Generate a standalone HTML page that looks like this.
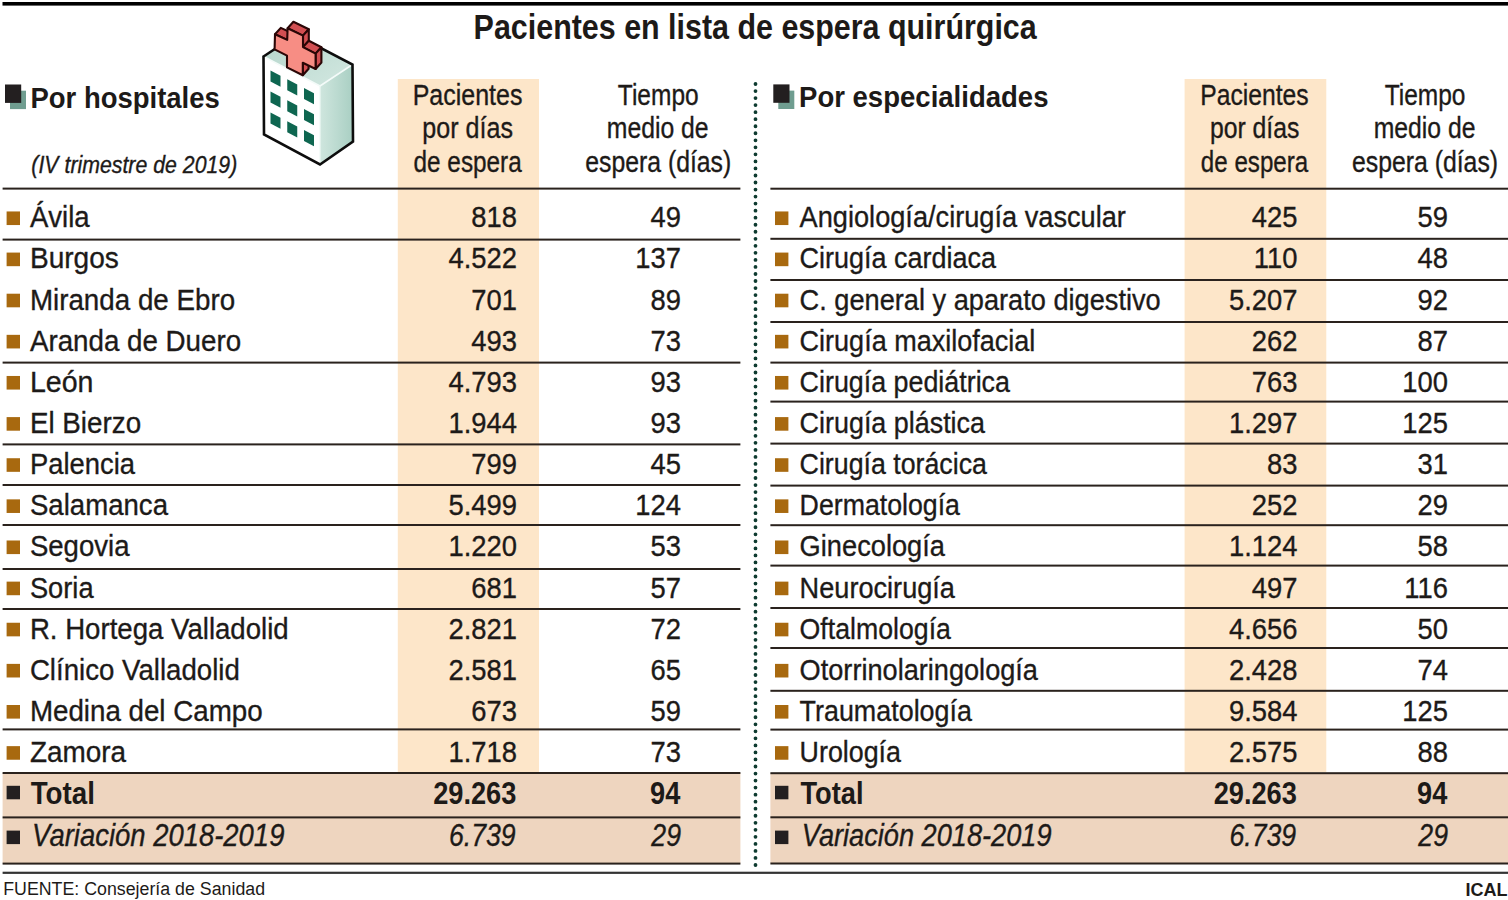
<!DOCTYPE html>
<html lang="es"><head><meta charset="utf-8"><title>Pacientes en lista de espera quirúrgica</title>
<style>
html,body{margin:0;padding:0;background:#fff;}
body{width:1508px;height:900px;overflow:hidden;}
svg{display:block;font-family:"Liberation Sans",Arial,Helvetica,sans-serif;}
</style></head><body>
<svg width="1508" height="900" viewBox="0 0 1508 900">
<rect x="0.00" y="0.00" width="1508.00" height="900.00" fill="#ffffff"/>
<rect x="397.80" y="79.00" width="141.20" height="693.20" fill="#fde6c9"/>
<rect x="1184.60" y="79.00" width="141.70" height="693.20" fill="#fde6c9"/>
<rect x="2.60" y="773.00" width="737.80" height="90.60" fill="#eed5bf"/>
<rect x="770.40" y="773.20" width="737.60" height="90.30" fill="#eed5bf"/>
<rect x="2.50" y="2.00" width="1505.50" height="3.60" fill="#000000"/>
<text transform="translate(473.62 38.80) scale(0.8479 1)" font-size="35.90" font-weight="bold" fill="#1d1a18">Pacientes en lista de espera quirúrgica</text>
<rect x="10.00" y="90.70" width="16.00" height="18.40" fill="#6f9d90"/>
<rect x="5.00" y="84.50" width="16.20" height="18.40" fill="#231f20"/>
<rect x="778.30" y="90.60" width="16.00" height="18.40" fill="#6f9d90"/>
<rect x="773.30" y="84.40" width="16.20" height="18.40" fill="#231f20"/>
<text transform="translate(30.51 108.00) scale(0.9102 1)" font-size="30.20" font-weight="bold" fill="#1d1a18">Por hospitales</text>
<text transform="translate(799.01 107.30) scale(0.9122 1)" font-size="30.20" font-weight="bold" fill="#1d1a18">Por especialidades</text>
<text transform="translate(31.34 172.80) scale(0.9144 1)" font-size="23.30" font-style="italic" fill="#1d1a18" stroke="#1d1a18" stroke-width="0.35">(IV trimestre de 2019)</text>
<text transform="translate(412.70 104.80) scale(0.8735 1)" font-size="28.60" fill="#1d1a18" stroke="#1d1a18" stroke-width="0.35">Pacientes</text>
<text transform="translate(422.37 138.10) scale(0.8774 1)" font-size="28.60" fill="#1d1a18" stroke="#1d1a18" stroke-width="0.35">por días</text>
<text transform="translate(413.58 171.50) scale(0.8501 1)" font-size="28.60" fill="#1d1a18" stroke="#1d1a18" stroke-width="0.35">de espera</text>
<text transform="translate(617.86 104.80) scale(0.8571 1)" font-size="28.60" fill="#1d1a18" stroke="#1d1a18" stroke-width="0.35">Tiempo</text>
<text transform="translate(606.84 138.10) scale(0.8652 1)" font-size="28.60" fill="#1d1a18" stroke="#1d1a18" stroke-width="0.35">medio de</text>
<text transform="translate(585.21 171.50) scale(0.8672 1)" font-size="28.60" fill="#1d1a18" stroke="#1d1a18" stroke-width="0.35">espera (días)</text>
<text transform="translate(1200.33 104.80) scale(0.8621 1)" font-size="28.60" fill="#1d1a18" stroke="#1d1a18" stroke-width="0.35">Pacientes</text>
<text transform="translate(1209.89 138.10) scale(0.8654 1)" font-size="28.60" fill="#1d1a18" stroke="#1d1a18" stroke-width="0.35">por días</text>
<text transform="translate(1200.83 171.50) scale(0.8446 1)" font-size="28.60" fill="#1d1a18" stroke="#1d1a18" stroke-width="0.35">de espera</text>
<text transform="translate(1384.66 104.80) scale(0.8571 1)" font-size="28.60" fill="#1d1a18" stroke="#1d1a18" stroke-width="0.35">Tiempo</text>
<text transform="translate(1373.64 138.10) scale(0.8652 1)" font-size="28.60" fill="#1d1a18" stroke="#1d1a18" stroke-width="0.35">medio de</text>
<text transform="translate(1352.01 171.50) scale(0.8672 1)" font-size="28.60" fill="#1d1a18" stroke="#1d1a18" stroke-width="0.35">espera (días)</text>
<rect x="6.60" y="211.45" width="13.40" height="13.60" fill="#a8690f"/>
<text transform="translate(29.90 227.35) scale(0.9131 1)" font-size="30.20" fill="#1d1a18" stroke="#1d1a18" stroke-width="0.35">Ávila</text>
<text transform="translate(517.00 227.35) scale(0.9070 1)" font-size="30.20" text-anchor="end" fill="#1d1a18" stroke="#1d1a18" stroke-width="0.35">818</text>
<text transform="translate(681.00 227.35) scale(0.9070 1)" font-size="30.20" text-anchor="end" fill="#1d1a18" stroke="#1d1a18" stroke-width="0.35">49</text>
<rect x="6.60" y="252.58" width="13.40" height="13.60" fill="#a8690f"/>
<text transform="translate(29.90 268.48) scale(0.9305 1)" font-size="30.20" fill="#1d1a18" stroke="#1d1a18" stroke-width="0.35">Burgos</text>
<text transform="translate(517.00 268.48) scale(0.9070 1)" font-size="30.20" text-anchor="end" fill="#1d1a18" stroke="#1d1a18" stroke-width="0.35">4.522</text>
<text transform="translate(681.00 268.48) scale(0.9070 1)" font-size="30.20" text-anchor="end" fill="#1d1a18" stroke="#1d1a18" stroke-width="0.35">137</text>
<rect x="6.60" y="293.71" width="13.40" height="13.60" fill="#a8690f"/>
<text transform="translate(29.90 309.61) scale(0.9195 1)" font-size="30.20" fill="#1d1a18" stroke="#1d1a18" stroke-width="0.35">Miranda de Ebro</text>
<text transform="translate(517.00 309.61) scale(0.9070 1)" font-size="30.20" text-anchor="end" fill="#1d1a18" stroke="#1d1a18" stroke-width="0.35">701</text>
<text transform="translate(681.00 309.61) scale(0.9070 1)" font-size="30.20" text-anchor="end" fill="#1d1a18" stroke="#1d1a18" stroke-width="0.35">89</text>
<rect x="6.60" y="334.84" width="13.40" height="13.60" fill="#a8690f"/>
<text transform="translate(29.90 350.74) scale(0.9184 1)" font-size="30.20" fill="#1d1a18" stroke="#1d1a18" stroke-width="0.35">Aranda de Duero</text>
<text transform="translate(517.00 350.74) scale(0.9070 1)" font-size="30.20" text-anchor="end" fill="#1d1a18" stroke="#1d1a18" stroke-width="0.35">493</text>
<text transform="translate(681.00 350.74) scale(0.9070 1)" font-size="30.20" text-anchor="end" fill="#1d1a18" stroke="#1d1a18" stroke-width="0.35">73</text>
<rect x="6.60" y="375.97" width="13.40" height="13.60" fill="#a8690f"/>
<text transform="translate(29.90 391.87) scale(0.9459 1)" font-size="30.20" fill="#1d1a18" stroke="#1d1a18" stroke-width="0.35">León</text>
<text transform="translate(517.00 391.87) scale(0.9070 1)" font-size="30.20" text-anchor="end" fill="#1d1a18" stroke="#1d1a18" stroke-width="0.35">4.793</text>
<text transform="translate(681.00 391.87) scale(0.9070 1)" font-size="30.20" text-anchor="end" fill="#1d1a18" stroke="#1d1a18" stroke-width="0.35">93</text>
<rect x="6.60" y="417.10" width="13.40" height="13.60" fill="#a8690f"/>
<text transform="translate(29.90 433.00) scale(0.9206 1)" font-size="30.20" fill="#1d1a18" stroke="#1d1a18" stroke-width="0.35">El Bierzo</text>
<text transform="translate(517.00 433.00) scale(0.9070 1)" font-size="30.20" text-anchor="end" fill="#1d1a18" stroke="#1d1a18" stroke-width="0.35">1.944</text>
<text transform="translate(681.00 433.00) scale(0.9070 1)" font-size="30.20" text-anchor="end" fill="#1d1a18" stroke="#1d1a18" stroke-width="0.35">93</text>
<rect x="6.60" y="458.23" width="13.40" height="13.60" fill="#a8690f"/>
<text transform="translate(29.90 474.13) scale(0.9075 1)" font-size="30.20" fill="#1d1a18" stroke="#1d1a18" stroke-width="0.35">Palencia</text>
<text transform="translate(517.00 474.13) scale(0.9070 1)" font-size="30.20" text-anchor="end" fill="#1d1a18" stroke="#1d1a18" stroke-width="0.35">799</text>
<text transform="translate(681.00 474.13) scale(0.9070 1)" font-size="30.20" text-anchor="end" fill="#1d1a18" stroke="#1d1a18" stroke-width="0.35">45</text>
<rect x="6.60" y="499.36" width="13.40" height="13.60" fill="#a8690f"/>
<text transform="translate(29.90 515.26) scale(0.9146 1)" font-size="30.20" fill="#1d1a18" stroke="#1d1a18" stroke-width="0.35">Salamanca</text>
<text transform="translate(517.00 515.26) scale(0.9070 1)" font-size="30.20" text-anchor="end" fill="#1d1a18" stroke="#1d1a18" stroke-width="0.35">5.499</text>
<text transform="translate(681.00 515.26) scale(0.9070 1)" font-size="30.20" text-anchor="end" fill="#1d1a18" stroke="#1d1a18" stroke-width="0.35">124</text>
<rect x="6.60" y="540.49" width="13.40" height="13.60" fill="#a8690f"/>
<text transform="translate(29.90 556.39) scale(0.9132 1)" font-size="30.20" fill="#1d1a18" stroke="#1d1a18" stroke-width="0.35">Segovia</text>
<text transform="translate(517.00 556.39) scale(0.9070 1)" font-size="30.20" text-anchor="end" fill="#1d1a18" stroke="#1d1a18" stroke-width="0.35">1.220</text>
<text transform="translate(681.00 556.39) scale(0.9070 1)" font-size="30.20" text-anchor="end" fill="#1d1a18" stroke="#1d1a18" stroke-width="0.35">53</text>
<rect x="6.60" y="581.62" width="13.40" height="13.60" fill="#a8690f"/>
<text transform="translate(29.90 597.52) scale(0.9033 1)" font-size="30.20" fill="#1d1a18" stroke="#1d1a18" stroke-width="0.35">Soria</text>
<text transform="translate(517.00 597.52) scale(0.9070 1)" font-size="30.20" text-anchor="end" fill="#1d1a18" stroke="#1d1a18" stroke-width="0.35">681</text>
<text transform="translate(681.00 597.52) scale(0.9070 1)" font-size="30.20" text-anchor="end" fill="#1d1a18" stroke="#1d1a18" stroke-width="0.35">57</text>
<rect x="6.60" y="622.75" width="13.40" height="13.60" fill="#a8690f"/>
<text transform="translate(29.90 638.65) scale(0.9144 1)" font-size="30.20" fill="#1d1a18" stroke="#1d1a18" stroke-width="0.35">R. Hortega Valladolid</text>
<text transform="translate(517.00 638.65) scale(0.9070 1)" font-size="30.20" text-anchor="end" fill="#1d1a18" stroke="#1d1a18" stroke-width="0.35">2.821</text>
<text transform="translate(681.00 638.65) scale(0.9070 1)" font-size="30.20" text-anchor="end" fill="#1d1a18" stroke="#1d1a18" stroke-width="0.35">72</text>
<rect x="6.60" y="663.88" width="13.40" height="13.60" fill="#a8690f"/>
<text transform="translate(29.90 679.78) scale(0.9151 1)" font-size="30.20" fill="#1d1a18" stroke="#1d1a18" stroke-width="0.35">Clínico Valladolid</text>
<text transform="translate(517.00 679.78) scale(0.9070 1)" font-size="30.20" text-anchor="end" fill="#1d1a18" stroke="#1d1a18" stroke-width="0.35">2.581</text>
<text transform="translate(681.00 679.78) scale(0.9070 1)" font-size="30.20" text-anchor="end" fill="#1d1a18" stroke="#1d1a18" stroke-width="0.35">65</text>
<rect x="6.60" y="705.01" width="13.40" height="13.60" fill="#a8690f"/>
<text transform="translate(29.90 720.91) scale(0.9183 1)" font-size="30.20" fill="#1d1a18" stroke="#1d1a18" stroke-width="0.35">Medina del Campo</text>
<text transform="translate(517.00 720.91) scale(0.9070 1)" font-size="30.20" text-anchor="end" fill="#1d1a18" stroke="#1d1a18" stroke-width="0.35">673</text>
<text transform="translate(681.00 720.91) scale(0.9070 1)" font-size="30.20" text-anchor="end" fill="#1d1a18" stroke="#1d1a18" stroke-width="0.35">59</text>
<rect x="6.60" y="746.14" width="13.40" height="13.60" fill="#a8690f"/>
<text transform="translate(29.90 762.04) scale(0.9237 1)" font-size="30.20" fill="#1d1a18" stroke="#1d1a18" stroke-width="0.35">Zamora</text>
<text transform="translate(517.00 762.04) scale(0.9070 1)" font-size="30.20" text-anchor="end" fill="#1d1a18" stroke="#1d1a18" stroke-width="0.35">1.718</text>
<text transform="translate(681.00 762.04) scale(0.9070 1)" font-size="30.20" text-anchor="end" fill="#1d1a18" stroke="#1d1a18" stroke-width="0.35">73</text>
<rect x="6.60" y="785.80" width="13.40" height="13.50" fill="#231f20"/>
<text transform="translate(30.70 804.10) scale(0.8952 1)" font-size="31.00" font-weight="bold" fill="#1d1a18">Total</text>
<text transform="translate(516.30 804.10) scale(0.8770 1)" font-size="31.00" text-anchor="end" font-weight="bold" fill="#1d1a18">29.263</text>
<text transform="translate(680.30 804.10) scale(0.8770 1)" font-size="31.00" text-anchor="end" font-weight="bold" fill="#1d1a18">94</text>
<rect x="6.60" y="830.60" width="13.40" height="13.50" fill="#231f20"/>
<text transform="translate(32.10 846.10) scale(0.8861 1)" font-size="31.00" font-style="italic" fill="#1d1a18" stroke="#1d1a18" stroke-width="0.35">Variación 2018-2019</text>
<text transform="translate(515.70 846.10) scale(0.8600 1)" font-size="31.00" text-anchor="end" font-style="italic" fill="#1d1a18" stroke="#1d1a18" stroke-width="0.35">6.739</text>
<text transform="translate(681.00 846.10) scale(0.8600 1)" font-size="31.00" text-anchor="end" font-style="italic" fill="#1d1a18" stroke="#1d1a18" stroke-width="0.35">29</text>
<rect x="775.00" y="211.45" width="13.40" height="13.60" fill="#a8690f"/>
<text transform="translate(799.60 227.35) scale(0.9003 1)" font-size="30.20" fill="#1d1a18" stroke="#1d1a18" stroke-width="0.35">Angiología/cirugía vascular</text>
<text transform="translate(1297.50 227.35) scale(0.9070 1)" font-size="30.20" text-anchor="end" fill="#1d1a18" stroke="#1d1a18" stroke-width="0.35">425</text>
<text transform="translate(1448.00 227.35) scale(0.9070 1)" font-size="30.20" text-anchor="end" fill="#1d1a18" stroke="#1d1a18" stroke-width="0.35">59</text>
<rect x="775.00" y="252.58" width="13.40" height="13.60" fill="#a8690f"/>
<text transform="translate(799.60 268.48) scale(0.8933 1)" font-size="30.20" fill="#1d1a18" stroke="#1d1a18" stroke-width="0.35">Cirugía cardiaca</text>
<text transform="translate(1297.50 268.48) scale(0.9070 1)" font-size="30.20" text-anchor="end" fill="#1d1a18" stroke="#1d1a18" stroke-width="0.35">110</text>
<text transform="translate(1448.00 268.48) scale(0.9070 1)" font-size="30.20" text-anchor="end" fill="#1d1a18" stroke="#1d1a18" stroke-width="0.35">48</text>
<rect x="775.00" y="293.71" width="13.40" height="13.60" fill="#a8690f"/>
<text transform="translate(799.60 309.61) scale(0.9005 1)" font-size="30.20" fill="#1d1a18" stroke="#1d1a18" stroke-width="0.35">C. general y aparato digestivo</text>
<text transform="translate(1297.50 309.61) scale(0.9070 1)" font-size="30.20" text-anchor="end" fill="#1d1a18" stroke="#1d1a18" stroke-width="0.35">5.207</text>
<text transform="translate(1448.00 309.61) scale(0.9070 1)" font-size="30.20" text-anchor="end" fill="#1d1a18" stroke="#1d1a18" stroke-width="0.35">92</text>
<rect x="775.00" y="334.84" width="13.40" height="13.60" fill="#a8690f"/>
<text transform="translate(799.60 350.74) scale(0.8947 1)" font-size="30.20" fill="#1d1a18" stroke="#1d1a18" stroke-width="0.35">Cirugía maxilofacial</text>
<text transform="translate(1297.50 350.74) scale(0.9070 1)" font-size="30.20" text-anchor="end" fill="#1d1a18" stroke="#1d1a18" stroke-width="0.35">262</text>
<text transform="translate(1448.00 350.74) scale(0.9070 1)" font-size="30.20" text-anchor="end" fill="#1d1a18" stroke="#1d1a18" stroke-width="0.35">87</text>
<rect x="775.00" y="375.97" width="13.40" height="13.60" fill="#a8690f"/>
<text transform="translate(799.60 391.87) scale(0.8892 1)" font-size="30.20" fill="#1d1a18" stroke="#1d1a18" stroke-width="0.35">Cirugía pediátrica</text>
<text transform="translate(1297.50 391.87) scale(0.9070 1)" font-size="30.20" text-anchor="end" fill="#1d1a18" stroke="#1d1a18" stroke-width="0.35">763</text>
<text transform="translate(1448.00 391.87) scale(0.9070 1)" font-size="30.20" text-anchor="end" fill="#1d1a18" stroke="#1d1a18" stroke-width="0.35">100</text>
<rect x="775.00" y="417.10" width="13.40" height="13.60" fill="#a8690f"/>
<text transform="translate(799.60 433.00) scale(0.8910 1)" font-size="30.20" fill="#1d1a18" stroke="#1d1a18" stroke-width="0.35">Cirugía plástica</text>
<text transform="translate(1297.50 433.00) scale(0.9070 1)" font-size="30.20" text-anchor="end" fill="#1d1a18" stroke="#1d1a18" stroke-width="0.35">1.297</text>
<text transform="translate(1448.00 433.00) scale(0.9070 1)" font-size="30.20" text-anchor="end" fill="#1d1a18" stroke="#1d1a18" stroke-width="0.35">125</text>
<rect x="775.00" y="458.23" width="13.40" height="13.60" fill="#a8690f"/>
<text transform="translate(799.60 474.13) scale(0.8865 1)" font-size="30.20" fill="#1d1a18" stroke="#1d1a18" stroke-width="0.35">Cirugía torácica</text>
<text transform="translate(1297.50 474.13) scale(0.9070 1)" font-size="30.20" text-anchor="end" fill="#1d1a18" stroke="#1d1a18" stroke-width="0.35">83</text>
<text transform="translate(1448.00 474.13) scale(0.9070 1)" font-size="30.20" text-anchor="end" fill="#1d1a18" stroke="#1d1a18" stroke-width="0.35">31</text>
<rect x="775.00" y="499.36" width="13.40" height="13.60" fill="#a8690f"/>
<text transform="translate(799.60 515.26) scale(0.8852 1)" font-size="30.20" fill="#1d1a18" stroke="#1d1a18" stroke-width="0.35">Dermatología</text>
<text transform="translate(1297.50 515.26) scale(0.9070 1)" font-size="30.20" text-anchor="end" fill="#1d1a18" stroke="#1d1a18" stroke-width="0.35">252</text>
<text transform="translate(1448.00 515.26) scale(0.9070 1)" font-size="30.20" text-anchor="end" fill="#1d1a18" stroke="#1d1a18" stroke-width="0.35">29</text>
<rect x="775.00" y="540.49" width="13.40" height="13.60" fill="#a8690f"/>
<text transform="translate(799.60 556.39) scale(0.9024 1)" font-size="30.20" fill="#1d1a18" stroke="#1d1a18" stroke-width="0.35">Ginecología</text>
<text transform="translate(1297.50 556.39) scale(0.9070 1)" font-size="30.20" text-anchor="end" fill="#1d1a18" stroke="#1d1a18" stroke-width="0.35">1.124</text>
<text transform="translate(1448.00 556.39) scale(0.9070 1)" font-size="30.20" text-anchor="end" fill="#1d1a18" stroke="#1d1a18" stroke-width="0.35">58</text>
<rect x="775.00" y="581.62" width="13.40" height="13.60" fill="#a8690f"/>
<text transform="translate(799.60 597.52) scale(0.8988 1)" font-size="30.20" fill="#1d1a18" stroke="#1d1a18" stroke-width="0.35">Neurocirugía</text>
<text transform="translate(1297.50 597.52) scale(0.9070 1)" font-size="30.20" text-anchor="end" fill="#1d1a18" stroke="#1d1a18" stroke-width="0.35">497</text>
<text transform="translate(1448.00 597.52) scale(0.9070 1)" font-size="30.20" text-anchor="end" fill="#1d1a18" stroke="#1d1a18" stroke-width="0.35">116</text>
<rect x="775.00" y="622.75" width="13.40" height="13.60" fill="#a8690f"/>
<text transform="translate(799.60 638.65) scale(0.8842 1)" font-size="30.20" fill="#1d1a18" stroke="#1d1a18" stroke-width="0.35">Oftalmología</text>
<text transform="translate(1297.50 638.65) scale(0.9070 1)" font-size="30.20" text-anchor="end" fill="#1d1a18" stroke="#1d1a18" stroke-width="0.35">4.656</text>
<text transform="translate(1448.00 638.65) scale(0.9070 1)" font-size="30.20" text-anchor="end" fill="#1d1a18" stroke="#1d1a18" stroke-width="0.35">50</text>
<rect x="775.00" y="663.88" width="13.40" height="13.60" fill="#a8690f"/>
<text transform="translate(799.60 679.78) scale(0.8991 1)" font-size="30.20" fill="#1d1a18" stroke="#1d1a18" stroke-width="0.35">Otorrinolaringología</text>
<text transform="translate(1297.50 679.78) scale(0.9070 1)" font-size="30.20" text-anchor="end" fill="#1d1a18" stroke="#1d1a18" stroke-width="0.35">2.428</text>
<text transform="translate(1448.00 679.78) scale(0.9070 1)" font-size="30.20" text-anchor="end" fill="#1d1a18" stroke="#1d1a18" stroke-width="0.35">74</text>
<rect x="775.00" y="705.01" width="13.40" height="13.60" fill="#a8690f"/>
<text transform="translate(799.60 720.91) scale(0.8906 1)" font-size="30.20" fill="#1d1a18" stroke="#1d1a18" stroke-width="0.35">Traumatología</text>
<text transform="translate(1297.50 720.91) scale(0.9070 1)" font-size="30.20" text-anchor="end" fill="#1d1a18" stroke="#1d1a18" stroke-width="0.35">9.584</text>
<text transform="translate(1448.00 720.91) scale(0.9070 1)" font-size="30.20" text-anchor="end" fill="#1d1a18" stroke="#1d1a18" stroke-width="0.35">125</text>
<rect x="775.00" y="746.14" width="13.40" height="13.60" fill="#a8690f"/>
<text transform="translate(799.60 762.04) scale(0.8883 1)" font-size="30.20" fill="#1d1a18" stroke="#1d1a18" stroke-width="0.35">Urología</text>
<text transform="translate(1297.50 762.04) scale(0.9070 1)" font-size="30.20" text-anchor="end" fill="#1d1a18" stroke="#1d1a18" stroke-width="0.35">2.575</text>
<text transform="translate(1448.00 762.04) scale(0.9070 1)" font-size="30.20" text-anchor="end" fill="#1d1a18" stroke="#1d1a18" stroke-width="0.35">88</text>
<rect x="775.00" y="785.80" width="13.40" height="13.50" fill="#231f20"/>
<text transform="translate(800.40 804.10) scale(0.8794 1)" font-size="31.00" font-weight="bold" fill="#1d1a18">Total</text>
<text transform="translate(1296.80 804.10) scale(0.8770 1)" font-size="31.00" text-anchor="end" font-weight="bold" fill="#1d1a18">29.263</text>
<text transform="translate(1447.30 804.10) scale(0.8770 1)" font-size="31.00" text-anchor="end" font-weight="bold" fill="#1d1a18">94</text>
<rect x="775.00" y="830.60" width="13.40" height="13.50" fill="#231f20"/>
<text transform="translate(801.80 846.10) scale(0.8766 1)" font-size="31.00" font-style="italic" fill="#1d1a18" stroke="#1d1a18" stroke-width="0.35">Variación 2018-2019</text>
<text transform="translate(1296.20 846.10) scale(0.8600 1)" font-size="31.00" text-anchor="end" font-style="italic" fill="#1d1a18" stroke="#1d1a18" stroke-width="0.35">6.739</text>
<text transform="translate(1448.00 846.10) scale(0.8600 1)" font-size="31.00" text-anchor="end" font-style="italic" fill="#1d1a18" stroke="#1d1a18" stroke-width="0.35">29</text>
<rect x="2.60" y="187.60" width="737.80" height="2.00" fill="#2a221d"/>
<rect x="2.60" y="238.60" width="737.80" height="2.00" fill="#2a221d"/>
<rect x="2.60" y="361.60" width="737.80" height="2.00" fill="#2a221d"/>
<rect x="2.60" y="443.40" width="737.80" height="2.00" fill="#2a221d"/>
<rect x="2.60" y="484.00" width="737.80" height="2.00" fill="#2a221d"/>
<rect x="2.60" y="524.00" width="737.80" height="2.00" fill="#2a221d"/>
<rect x="2.60" y="568.00" width="737.80" height="2.00" fill="#2a221d"/>
<rect x="2.60" y="608.00" width="737.80" height="2.00" fill="#2a221d"/>
<rect x="2.60" y="728.40" width="737.80" height="2.00" fill="#2a221d"/>
<rect x="2.60" y="772.00" width="737.80" height="2.00" fill="#2a221d"/>
<rect x="2.60" y="816.40" width="737.80" height="2.00" fill="#2a221d"/>
<rect x="2.60" y="862.60" width="737.80" height="2.00" fill="#2a221d"/>
<rect x="770.40" y="187.70" width="737.60" height="2.00" fill="#2a221d"/>
<rect x="770.40" y="237.80" width="737.60" height="2.00" fill="#2a221d"/>
<rect x="770.40" y="279.00" width="737.60" height="2.00" fill="#2a221d"/>
<rect x="770.40" y="321.00" width="737.60" height="2.00" fill="#2a221d"/>
<rect x="770.40" y="361.60" width="737.60" height="2.00" fill="#2a221d"/>
<rect x="770.40" y="400.60" width="737.60" height="2.00" fill="#2a221d"/>
<rect x="770.40" y="442.60" width="737.60" height="2.00" fill="#2a221d"/>
<rect x="770.40" y="484.60" width="737.60" height="2.00" fill="#2a221d"/>
<rect x="770.40" y="524.20" width="737.60" height="2.00" fill="#2a221d"/>
<rect x="770.40" y="564.60" width="737.60" height="2.00" fill="#2a221d"/>
<rect x="770.40" y="607.00" width="737.60" height="2.00" fill="#2a221d"/>
<rect x="770.40" y="647.00" width="737.60" height="2.00" fill="#2a221d"/>
<rect x="770.40" y="689.80" width="737.60" height="2.00" fill="#2a221d"/>
<rect x="770.40" y="728.60" width="737.60" height="2.00" fill="#2a221d"/>
<rect x="770.40" y="772.20" width="737.60" height="2.00" fill="#2a221d"/>
<rect x="770.40" y="816.30" width="737.60" height="2.00" fill="#2a221d"/>
<rect x="770.40" y="862.50" width="737.60" height="2.00" fill="#2a221d"/>
<rect x="2.60" y="871.70" width="1505.40" height="2.20" fill="#333333"/>
<line x1="755.5" y1="84" x2="755.5" y2="865.6" stroke="#0e3b30" stroke-width="3.8" stroke-linecap="round" stroke-dasharray="0.01 7.026"/>
<text transform="translate(3.18 894.90) scale(1.0105 1)" font-size="17.60" fill="#1d1a18">FUENTE: Consejería de Sanidad</text>
<text transform="translate(1465.43 895.80) scale(1.0042 1)" font-size="18.00" font-weight="bold" fill="#1d1a18">ICAL</text>
<g><defs><linearGradient id="rg" x1="0" x2="1" y1="0" y2="0"><stop offset="0" stop-color="#cfe6de"/><stop offset="1" stop-color="#a9cfc3"/></linearGradient><linearGradient id="tg" x1="0" x2="1" y1="0" y2="1"><stop offset="0" stop-color="#b4d5cb"/><stop offset="1" stop-color="#d3e8e1"/></linearGradient></defs><polygon points="263.50,56.50 296.00,35.00 352.50,64.50 320.00,86.00" fill="url(#tg)"/><polygon points="263.50,56.50 320.00,86.00 320.00,164.50 264.00,134.50" fill="#ffffff"/><polygon points="320.00,86.00 352.50,64.50 353.00,141.50 320.00,164.50" fill="url(#rg)"/><polyline points="263.50,56.50 320.00,86.00 352.50,64.50" fill="none" stroke="#f4fbf9" stroke-width="1.6"/><line x1="320.00" y1="86.00" x2="320.00" y2="164.50" stroke="#eef8f5" stroke-width="1.2"/><polygon points="263.50,56.50 296.00,35.00 352.50,64.50 353.00,141.50 320.00,164.50 264.00,134.50" fill="none" stroke="#0d0d0d" stroke-width="2.6" stroke-linejoin="miter"/><polygon points="270.50,70.50 280.50,75.70 280.50,86.70 270.50,81.50" fill="#0e6650"/><polygon points="270.50,91.50 280.50,96.70 280.50,107.70 270.50,102.50" fill="#0e6650"/><polygon points="270.50,112.50 280.50,117.70 280.50,128.70 270.50,123.50" fill="#0e6650"/><polygon points="287.25,79.25 297.25,84.45 297.25,95.45 287.25,90.25" fill="#0e6650"/><polygon points="287.25,100.25 297.25,105.45 297.25,116.45 287.25,111.25" fill="#0e6650"/><polygon points="287.25,121.25 297.25,126.45 297.25,137.45 287.25,132.25" fill="#0e6650"/><polygon points="304.00,88.00 314.00,93.20 314.00,104.20 304.00,99.00" fill="#0e6650"/><polygon points="304.00,109.00 314.00,114.20 314.00,125.20 304.00,120.00" fill="#0e6650"/><polygon points="304.00,130.00 314.00,135.20 314.00,146.20 304.00,141.00" fill="#0e6650"/><polygon points="275.00,34.30 287.20,39.90 293.00,33.50 280.80,27.90" fill="#d24f52" stroke="#2a0606" stroke-width="2.1" stroke-linejoin="round"/><polygon points="287.60,28.20 303.00,35.60 308.80,29.20 293.40,21.80" fill="#d24f52" stroke="#2a0606" stroke-width="2.1" stroke-linejoin="round"/><polygon points="303.00,35.60 303.00,47.10 308.80,40.70 308.80,29.20" fill="#d24f52" stroke="#2a0606" stroke-width="2.1" stroke-linejoin="round"/><polygon points="303.00,47.10 315.60,53.60 321.40,47.20 308.80,40.70" fill="#d24f52" stroke="#2a0606" stroke-width="2.1" stroke-linejoin="round"/><polygon points="315.60,53.60 315.60,69.00 321.40,62.60 321.40,47.20" fill="#d24f52" stroke="#2a0606" stroke-width="2.1" stroke-linejoin="round"/><polygon points="302.80,62.80 302.80,75.20 308.60,68.80 308.60,56.40" fill="#d24f52" stroke="#2a0606" stroke-width="2.1" stroke-linejoin="round"/><polygon points="275.00,34.30 287.20,39.90 287.60,28.20 303.00,35.60 303.00,47.10 315.60,53.60 315.60,69.00 302.80,62.80 302.80,75.20 287.00,67.40 287.00,55.60 274.60,49.40" fill="#f78d84" stroke="#2a0606" stroke-width="2.1" stroke-linejoin="round"/></g>
</svg>
</body></html>
